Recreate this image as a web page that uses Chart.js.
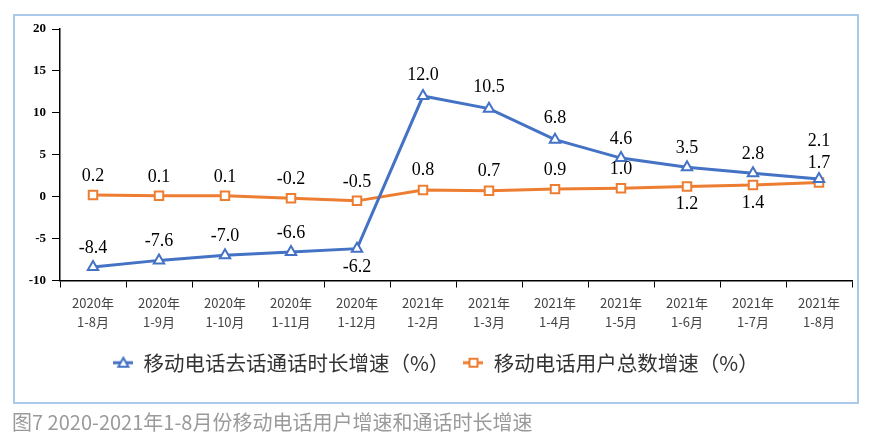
<!DOCTYPE html>
<html>
<head>
<meta charset="utf-8">
<script src="https://cdn.jsdelivr.net/npm/chart.js@4/dist/chart.umd.min.js"></script>
<style>
  html, body { margin: 0; padding: 0; background: #fff; }
  #wrap { position: relative; width: 870px; height: 441px; overflow: hidden; }
  #box { position: absolute; left: 13px; top: 14px; width: 842px; height: 386px; border: 2px solid #a9cbe9; }
  #cv { position: absolute; left: 0; top: 0; }
  #caption { position: absolute; left: 12px; top: 407px; font: 20px "Noto Sans CJK SC", sans-serif; color: #9a9a9a; white-space: nowrap; }
</style>
</head>
<body>
<div id="wrap">
  <div id="box"></div>
  <canvas id="cv" width="870" height="441"></canvas>
  <div id="caption">图7 2020-2021年1-8月份移动电话用户增速和通话时长增速</div>
</div>
<script>
// 数据
const years = ["2020年", "2020年", "2020年", "2020年", "2020年", "2021年", "2021年", "2021年", "2021年", "2021年", "2021年", "2021年"];
const months = ["1-8月", "1-9月", "1-10月", "1-11月", "1-12月", "1-2月", "1-3月", "1-4月", "1-5月", "1-6月", "1-7月", "1-8月"];
const callGrowth = [-8.4, -7.6, -7.0, -6.6, -6.2, 12.0, 10.5, 6.8, 4.6, 3.5, 2.8, 2.1];
const userGrowth = [0.2, 0.1, 0.1, -0.2, -0.5, 0.8, 0.7, 0.9, 1.0, 1.2, 1.4, 1.7];
const yTicks = [20, 15, 10, 5, 0, -5, -10];

const blue = "#4472c4";
const orange = "#ed7d31";

// 标签偏移（像素，负数为上方）
const callLabelDy = [-19, -19, -19, -19, 19, -21, -21, -21, -19, -19, -19, -38];
const userLabelDy = [-19, -19, -19, -19, -19, -20, -20, -19, -19, 18, 18, -19];

// 图例图标：线段 + 标记
function legendIcon(color, shape) {
  const c = document.createElement("canvas");
  c.width = 20; c.height = 14;
  const g = c.getContext("2d");
  g.strokeStyle = color; g.lineWidth = 3;
  g.beginPath(); g.moveTo(0, 7); g.lineTo(20, 7); g.stroke();
  g.fillStyle = "#fff"; g.lineWidth = 2;
  g.beginPath();
  if (shape === "tri") {
    g.moveTo(10, 2); g.lineTo(15, 11); g.lineTo(5, 11); g.closePath();
  } else {
    g.rect(6, 3, 8, 8);
  }
  g.fill(); g.stroke();
  return c;
}

const valueLabels = {
  id: "valueLabels",
  afterDatasetsDraw(chart) {
    const ctx = chart.ctx;
    ctx.save();
    ctx.font = "18px 'Liberation Serif', 'Times New Roman', serif";
    ctx.fillStyle = "#000";
    ctx.textAlign = "center";
    ctx.textBaseline = "middle";
    chart.data.datasets.forEach((ds, di) => {
      const meta = chart.getDatasetMeta(di);
      const dys = di === 0 ? callLabelDy : userLabelDy;
      meta.data.forEach((pt, i) => {
        ctx.fillText(ds.data[i].toFixed(1), pt.x, pt.y + dys[i]);
      });
    });
    ctx.restore();
  }
};

new Chart(document.getElementById("cv"), {
  type: "line",
  data: {
    labels: years.map((y, i) => [y, months[i]]),
    datasets: [
      {
        label: "移动电话去话通话时长增速（%）",
        data: callGrowth,
        borderColor: blue,
        borderWidth: 3,
        pointStyle: "triangle",
        pointRadius: 6,
        pointBorderWidth: 2,
        pointBackgroundColor: "#fff",
        pointBorderColor: blue,
        tension: 0
      },
      {
        label: "移动电话用户总数增速（%）",
        data: userGrowth,
        borderColor: orange,
        borderWidth: 3,
        pointStyle: "rect",
        pointRadius: 6,
        pointBorderWidth: 2,
        pointBackgroundColor: "#fff",
        pointBorderColor: orange,
        tension: 0
      }
    ]
  },
  options: {
    responsive: false,
    animation: false,
    layout: { padding: { left: 20, right: 18, top: 29, bottom: 58 } },
    plugins: {
      tooltip: { enabled: false },
      legend: {
        position: "bottom",
        labels: {
          usePointStyle: true,
          pointStyleWidth: 20,
          padding: 14,
          color: "#333",
          font: { family: "'Noto Sans CJK SC', sans-serif", size: 20.5 },
          generateLabels(chart) {
            return chart.data.datasets.map((ds, i) => ({
              text: ds.label,
              pointStyle: legendIcon(ds.borderColor, i === 0 ? "tri" : "sq"),
              fillStyle: ds.borderColor,
              strokeStyle: ds.borderColor,
              fontColor: "#333",
              lineWidth: 0,
              datasetIndex: i
            }));
          }
        }
      }
    },
    scales: {
      x: {
        offset: true,
        grid: { offset: true, drawOnChartArea: false, drawTicks: true, tickLength: 7, color: "#000" },
        border: { display: true, color: "#000", width: 1.5 },
        ticks: {
          color: "#444",
          padding: 6,
          maxRotation: 0,
          font: { family: "'Noto Sans CJK SC', sans-serif", size: 13, lineHeight: 1.45 }
        },
        afterFit(scale) { scale.height = 58; }
      },
      y: {
        min: -10,
        max: 20,
        afterBuildTicks(scale) { scale.ticks = yTicks.map(v => ({ value: v })); },
        grid: { drawOnChartArea: false, drawTicks: true, tickLength: 8, color: "#000" },
        border: { display: true, color: "#000", width: 1.5 },
        ticks: {
          color: "#000",
          padding: 6,
          font: { family: "'Liberation Serif', 'Times New Roman', serif", size: 13, weight: "bold" }
        },
        afterFit(scale) { scale.width = 40; }
      }
    }
  },
  plugins: [valueLabels]
});
</script>
</body>
</html>
